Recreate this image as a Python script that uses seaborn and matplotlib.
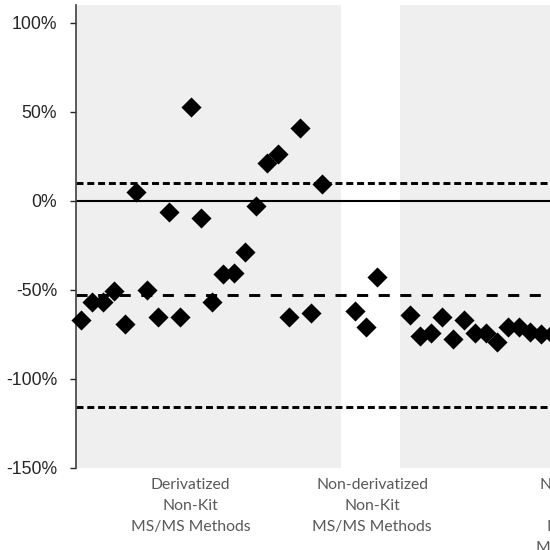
import numpy as np
import pandas as pd
import matplotlib
matplotlib.use("Agg")
import matplotlib.pyplot as plt
import seaborn as sns

# ---- data (percent bias) ----
deriv_nonkit = [-67, -57, -57, -50.5, -69, 5, -50, -65, -6, -65, 53, -9.5,
                -57, -41, -40.5, -28.5, -3, 21, 26.5, -65, 41, -63, 9.5]
nonderiv_nonkit = [-62, -71, -43]
group3 = [-64, -76, -74, -65, -77.5, -67, -74, -74, -79, -71, -71, -73.5, -75, -75]

group_labels = ["Derivatized\nNon-Kit\nMS/MS Methods",
                "Non-derivatized\nNon-Kit\nMS/MS Methods",
                "Non-derivatized\nKit\nNon-Standard\nMS/MS Methods"]
ref_lines_dashed = [10, -53, -116]
ytick_vals = [-150, -100, -50, 0, 50, 100]
ytick_labels = [f"{v}%" for v in ytick_vals]

# ---- layout ----
starts = [0, 25, 30]
groups = [deriv_nonkit, nonderiv_nonkit, group3]
rows = []
for gi, (st, vals) in enumerate(zip(starts, groups)):
    for i, v in enumerate(vals):
        rows.append({"pos": st + i, "bias": v, "group": gi})
df = pd.DataFrame(rows)

sns.set_style("white")
plt.rcParams["font.family"] = ["Liberation Sans", "DejaVu Sans"]

fig = plt.figure(figsize=(5.5, 5.5), dpi=100)
W = H = 550.0
ax = fig.add_axes([76 / W, 1 - 468 / H, 1 - 76 / W, (468 - 5) / H])

xmin, xmax = -0.457, 42.83
ax.set_xlim(xmin, xmax)
ax.set_ylim(-150, 110)

# shaded bands
ax.axvspan(xmin, 23.7, color="#efefef", zorder=0, lw=0)
ax.axvspan(29.1, 60, color="#efefef", zorder=0, lw=0)

# reference lines
ax.axhline(0, color="black", lw=1.5, zorder=2)
ax.axhline(ref_lines_dashed[0], color="black", lw=2.1, ls=(0, (2.4, 1.3)), zorder=2)
ax.axhline(ref_lines_dashed[1], color="black", lw=2.1, ls=(0, (3.8, 3.6)), zorder=2)
ax.axhline(ref_lines_dashed[2], color="black", lw=2.1, ls=(0, (2.4, 1.3)), zorder=2)

sns.scatterplot(data=df, x="pos", y="bias", marker="D", s=105, color="black",
                linewidth=0, ax=ax, zorder=3, clip_on=False, legend=False)

ax.set_xlabel("")
ax.set_ylabel("")
ax.set_xticks([])
ax.set_yticks(ytick_vals)
ax.set_yticklabels(ytick_labels)
ax.tick_params(axis="y", length=4.5, width=1.0, pad=9, labelsize=12.7,
               colors="#262626", left=True)
for s in ["top", "right", "bottom"]:
    ax.spines[s].set_visible(False)
ax.spines["left"].set_color("#404040")
ax.spines["left"].set_linewidth(1.2)

label_centers = [10.0, 26.6, 47.0]
for xc, lab in zip(label_centers, group_labels):
    ax.text(xc, -0.022, lab, transform=ax.get_xaxis_transform(), ha="center",
            va="top", fontsize=11.3, color="#595959", family=["Lato", "DejaVu Sans"],
            linespacing=1.62, clip_on=False)

fig.savefig("out.png", dpi=100)
